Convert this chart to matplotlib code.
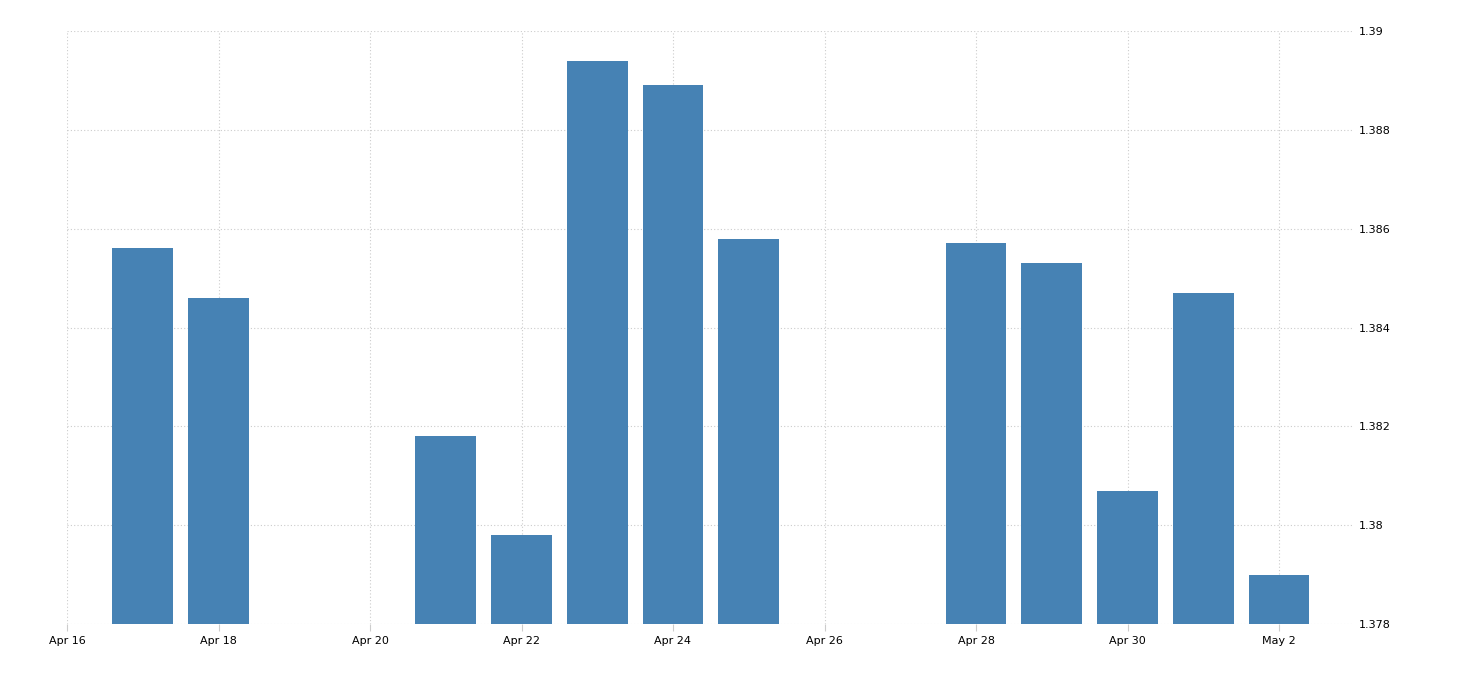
import matplotlib
matplotlib.use("Agg")
import matplotlib.pyplot as plt
import matplotlib.dates as mdates
import datetime as dt

dates = ["2025-04-17", "2025-04-18", "2025-04-21", "2025-04-22", "2025-04-23", "2025-04-24",
         "2025-04-25", "2025-04-28", "2025-04-29", "2025-04-30", "2025-05-01", "2025-05-02"]
values = [1.3856, 1.3846, 1.3818, 1.3798, 1.3894, 1.3889,
          1.3858, 1.3857, 1.3853, 1.3807, 1.3847, 1.3790]
tick_dates = ["2025-04-16", "2025-04-18", "2025-04-20", "2025-04-22", "2025-04-24",
              "2025-04-26", "2025-04-28", "2025-04-30", "2025-05-02"]
tick_labels = ["Apr 16", "Apr 18", "Apr 20", "Apr 22", "Apr 24", "Apr 26", "Apr 28", "Apr 30", "May 2"]
y_ticks = [1.378, 1.38, 1.382, 1.384, 1.386, 1.388, 1.39]
y_labels = ["1.378", "1.38", "1.382", "1.384", "1.386", "1.388", "1.39"]

x = [mdates.date2num(dt.datetime.fromisoformat(d)) for d in dates]
xt = [mdates.date2num(dt.datetime.fromisoformat(d)) for d in tick_dates]

fig = plt.figure(figsize=(14.6, 6.8), dpi=100)
ax = fig.add_axes([67/1460, 56/680, (1353-67)/1460, (624-31)/680])
ax.bar(x, [v - 1.378 for v in values], bottom=1.378, width=0.8, color="#4682B4", zorder=2)

ax.set_xlim(xt[0], xt[0] + (1353-67)/75.75)
ax.set_ylim(1.378, 1.39)
ax.set_xticks(xt)
ax.set_xticklabels(tick_labels, fontsize=8, color="#000000")
ax.set_yticks(y_ticks)
ax.set_yticklabels(y_labels, fontsize=8, color="#000000")
ax.yaxis.tick_right()
ax.tick_params(axis="y", length=0, pad=4)
ax.tick_params(axis="x", length=5, color="#cccccc", pad=4)
for s in ax.spines.values():
    s.set_visible(False)
ax.grid(True, color="#cccccc", linestyle=(0, (1, 2)), linewidth=0.8, zorder=0)
ax.set_axisbelow(True)

fig.savefig("out.png", dpi=100)
